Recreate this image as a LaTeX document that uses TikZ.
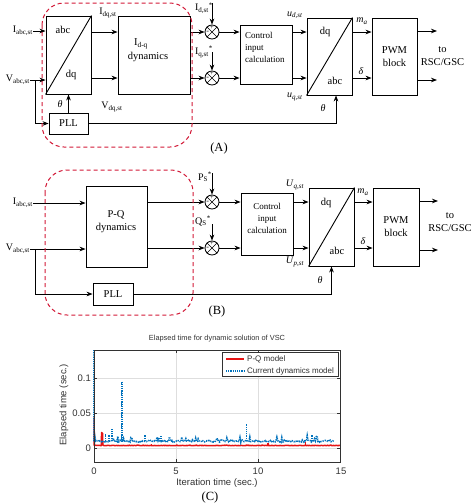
\documentclass[tikz,border=0pt]{standalone}
\usepackage{fontspec}
\setmainfont{Liberation Serif}
\newfontfamily\chartfont{Liberation Sans}
\usetikzlibrary{arrows.meta,calc}
\definecolor{dashred}{RGB}{210,25,55}
\definecolor{plotred}{RGB}{230,20,20}
\definecolor{plotblue}{RGB}{0,114,189}
\definecolor{gridc}{RGB}{222,222,222}
\definecolor{axc}{RGB}{50,50,50}
\newcommand\sumx[1]{%
  \draw[line width=0.65pt] (#1.45) -- (#1.225) (#1.135) -- (#1.315);
  \node[font=\fontsize{6.5}{6.5}\selectfont, inner sep=0pt] (#1p) at ($(#1.center)+(0,-4)$) {+};
  \node[font=\fontsize{8}{8}\selectfont, inner sep=0pt] (#1m) at ($(#1.center)+(-4.2,0.3)$) {-};}
\begin{document}
\begin{tikzpicture}[x=1pt,y=-1pt,
  blk/.style={draw, line width=0.9pt, inner sep=0pt},
  arr/.style={-{Stealth[length=6pt,width=4.6pt]}, line width=0.85pt},
  ln/.style={line width=0.9pt},
  lbl/.style={font=\fontsize{10}{11}\selectfont, inner sep=0pt},
  txt/.style={font=\fontsize{10.5}{13}\selectfont, inner sep=0pt, align=center},
  ctxt/.style={font=\fontsize{9}{12}\selectfont, inner sep=0pt},
  sumc/.style={draw, circle, minimum size=14pt, inner sep=0pt, line width=0.85pt},
  redbox/.style={draw=dashred, line width=1pt, dash pattern=on 4pt off 3pt, rounded corners=22pt},
  figlab/.style={font=\fontsize{12.5}{14}\selectfont, inner sep=0pt},
  ctick/.style={font=\chartfont\fontsize{9.5}{11}\selectfont, inner sep=0pt, text=axc},
  bdots/.style={plotblue, line width=1.6pt, dash pattern=on 1.2pt off 1pt},
]
\useasboundingbox (0,0) rectangle (474,504);

% ================= (A) =================
\node[blk, minimum width=45pt, minimum height=78pt] (abcA) at (68.5,55) {};
\draw[ln] (abcA.south west) -- (abcA.north east);
\node[txt] (abcAt1) at (63,30) {abc};
\node[txt] (abcAt2) at (71,75) {dq};
\node[blk, minimum width=72pt, minimum height=78pt] (dynA) at (154,55) {};
\node[txt] (dynAt1) at (141,44) {I\textsubscript{d-q}};
\node[txt] (dynAt2) at (148,57) {dynamics};
\node[sumc] (s1A) at (212,32) {};
\node[sumc] (s2A) at (212,78) {};
\sumx{s1A}\sumx{s2A}
\node[blk, minimum width=52pt, minimum height=59pt] (ctrlA) at (266,54.5) {};
\node[ctxt, align=left, anchor=west] (ctrlAt) at (245,47) {Control\\input\\calculation};
\node[blk, minimum width=45pt, minimum height=77pt] (dqA) at (329.5,56.5) {};
\draw[ln] (dqA.south west) -- (dqA.north east);
\node[txt] (dqAt1) at (325,32) {dq};
\node[txt] (dqAt2) at (335,81) {abc};
\node[blk, txt, minimum width=45pt, minimum height=77pt] (pwmA) at (394.5,56.5) {PWM\\block};
\node[blk, txt, minimum width=39pt, minimum height=21pt] (pllA) at (68.5,123.5) {PLL};
\node[txt] (toA) at (442.5,56) {to\\RSC/GSC};

\node[lbl, anchor=east] (iA) at (33,31) {I\textsubscript{abc,st}};
\node[lbl, anchor=east] (vA) at (30,80) {V\textsubscript{abc,st}};
\draw[arr] (iA.east) -- (iA.east -| abcA.west);
\draw[arr] (vA.east) -- (vA.east -| abcA.west);
\coordinate (bA) at (35,0);
\draw[arr] (vA.east -| bA) |- (pllA.west);
\draw[arr] (pllA.north) -- (abcA.south);
\node[lbl] (thA1) at (60,104) {\textit{θ}};
\node[lbl] (vdqA) at (112,107) {V\textsubscript{dq,st}};
\node[lbl] (idqA) at (108,13) {I\textsubscript{dq,st}};

\draw[arr] (abcA.east |- s1A) -- (dynA.west |- s1A);
\draw[arr] (abcA.east |- s2A) -- (dynA.west |- s2A);
\draw[arr] (dynA.east |- s1A) -- (s1A.west);
\draw[arr] (dynA.east |- s2A) -- (s2A.west);
\draw[arr] (s1A.east) -- (ctrlA.west |- s1A);
\draw[arr] (s2A.east) -- (ctrlA.west |- s2A);
\draw[arr] (ctrlA.east |- s1A) -- (dqA.west |- s1A);
\draw[arr] (ctrlA.east |- s2A) -- (dqA.west |- s2A);
\draw[arr] (dqA.east |- s1A) -- (pwmA.west |- s1A);
\draw[arr] (dqA.east |- s2A) -- (pwmA.west |- s2A);
\coordinate (o1A) at (437,31);
\coordinate (o2A) at (437,80);
\draw[arr] (pwmA.east |- o1A) -- (o1A);
\draw[arr] (pwmA.east |- o2A) -- (o2A);

\coordinate (r1A) at (212,3);
\coordinate (r2A) at (212,52);
\draw[arr] (r1A) -- (s1A.north);
\draw[arr] (r2A) -- (s2A.north);
\node[lbl] (idsA) at (204,8) {I\textsubscript{d,st}\textsuperscript{*}};
\node[lbl] (iqsA) at (204,52) {I\textsubscript{q,st}\textsuperscript{*}};

\node[lbl] (udA) at (295,15) {\textit{u}\textsubscript{\textit{d,st}}};
\node[lbl] (uqA) at (295,97) {\textit{u}\textsubscript{\textit{q,st}}};
\node[lbl] (maA) at (362,21) {\textit{m}\textsubscript{\textit{a}}};
\node[lbl] (deA) at (361,71) {\textit{δ}};
\node[lbl] (thA2) at (323,108) {\textit{θ}};
\coordinate (tA) at (336,0);
\draw[arr] (pllA.east) -| (dqA.south -| tA);

\draw[redbox] (42,3) rectangle (192,147);
\node[figlab] (labA) at (219,148) {(A)};

% ================= (B) =================
\node[blk, txt, minimum width=61pt, minimum height=81pt] (pqB) at (116.5,226.5) {};
\node[txt] (pqBt) at (116,221.5) {P-Q\\dynamics};
\node[sumc] (s1B) at (212,202) {};
\node[sumc] (s2B) at (212,248) {};
\sumx{s1B}\sumx{s2B}
\node[blk, minimum width=52pt, minimum height=62pt] (ctrlB) at (267,224) {};
\node[ctxt, align=center] (ctrlBt) at (267,218) {Control\\input\\calculation};
\node[blk, minimum width=45pt, minimum height=78pt] (dqB) at (331.5,227) {};
\draw[ln] (dqB.south west) -- (dqB.north east);
\node[txt] (dqBt1) at (326,203) {dq};
\node[txt] (dqBt2) at (337,251) {abc};
\node[blk, txt, minimum width=46pt, minimum height=78pt] (pwmB) at (396,227) {PWM\\block};
\node[blk, txt, minimum width=40pt, minimum height=22pt] (pllB) at (113,294) {PLL};
\node[txt] (toB) at (450,222.5) {to\\RSC/GSC};

\node[lbl, anchor=east] (iB) at (33,203) {I\textsubscript{abc,st}};
\node[lbl, anchor=east] (vB) at (30,249) {V\textsubscript{abc,st}};
\draw[arr] (iB.east) -- (iB.east -| pqB.west);
\draw[arr] (vB.east) -- (vB.east -| pqB.west);
\draw[arr] (vB.east -| bA) |- (pllB.west);

\draw[arr] (pqB.east |- s1B) -- (s1B.west);
\draw[arr] (pqB.east |- s2B) -- (s2B.west);
\draw[arr] (s1B.east) -- (ctrlB.west |- s1B);
\draw[arr] (s2B.east) -- (ctrlB.west |- s2B);
\draw[arr] (ctrlB.east |- s1B) -- (dqB.west |- s1B);
\draw[arr] (ctrlB.east |- s2B) -- (dqB.west |- s2B);
\draw[arr] (dqB.east |- s1B) -- (pwmB.west |- s1B);
\draw[arr] (dqB.east |- s2B) -- (pwmB.west |- s2B);
\coordinate (o1B) at (438,201);
\coordinate (o2B) at (438,250);
\draw[arr] (pwmB.east |- o1B) -- (o1B);
\draw[arr] (pwmB.east |- o2B) -- (o2B);

\coordinate (r1B) at (212,173);
\coordinate (r2B) at (212,224);
\draw[arr] (r1B) -- (s1B.north);
\draw[arr] (r2B) -- (s2B.north);
\node[lbl] (psB) at (205,177) {P\textsubscript{S}\textsuperscript{*}};
\node[lbl] (qsB) at (203,221) {Q\textsubscript{S}\textsuperscript{*}};

\node[lbl] (uqB) at (295,185) {\textit{U}\textsubscript{\textit{q,st}}};
\node[lbl] (upB) at (295,262) {\textit{U}\textsubscript{\textit{p,st}}};
\node[lbl] (maB) at (363,192) {\textit{m}\textsubscript{\textit{a}}};
\node[lbl] (deB) at (363,241) {\textit{δ}};
\node[lbl] (thB) at (320,280) {\textit{θ}};
\draw[arr] (pllB.east) -| (dqB.south);

\draw[redbox] (45,170) rectangle (193,315);
\node[figlab] (labB) at (217,311) {(B)};

% ================= (C) chart =================
\node[font=\chartfont\fontsize{7.4}{9}\selectfont, inner sep=0pt, text=axc] (ttl) at (217,339) {Elapsed time for dynamic solution of VSC};
\begin{scope}[shift={(94pt,-448pt)}, x=16.4pt, y=700pt]
  \fill[white] (0,-0.02) rectangle (15,0.14);
  \draw[gridc, line width=0.5pt] (5,-0.02) -- (5,0.14) (10,-0.02) -- (10,0.14)
     (0,0) -- (15,0) (0,0.05) -- (15,0.05) (0,0.1) -- (15,0.1);
  \pgfmathsetseed{12345}
  % red P-Q model
  \draw[plotred, line width=1.5pt, line join=round]
    (0,0.0035) -- (0,0.043) -- (0.03,0.004) -- (0.45,0.0035) -- (0.46,0.022) -- (0.52,0.021) -- (0.54,0.0045) -- (0.6,0.0035)
    \foreach \i in {13,...,300} { -- ({\i*0.05}, {0.0033+0.0012*rnd*rnd}) };
  \draw[plotred, line width=1.5pt] (10.6,0.0035) -- (10.6,0.0075) (12.9,0.0035) -- (12.9,0.008) (3.5,0.0035) -- (3.5,0.006);
  % blue current dynamics
  \draw[bdots]
    (0,0.14) -- (0,0.009)
    \foreach \i in {1,...,292} { -- ({\i*0.05}, {0.0085+0.0025*rnd+0.007*(rnd>0.85)*rnd}) };
  \draw[bdots]
    (1.68,0.009) -- (1.68,0.095) (1.72,0.095) -- (1.72,0.009)
    (1.1,0.01) -- (1.1,0.027)
    (0.7,0.01) -- (0.7,0.02) (0.9,0.01) -- (0.9,0.018)
    (9.3,0.01) -- (9.3,0.035)
    (3.1,0.01) -- (3.1,0.019) (13.3,0.01) -- (13.3,0.018) (4.1,0.01) -- (4.1,0.017);
  \draw[axc, line width=0.5pt] (0,-0.02) rectangle (15,0.14);
  \foreach \t in {0,5,10,15} {
    \draw[axc, line width=0.5pt] (\t,-0.02) -- (\t,-0.0157) (\t,0.14) -- (\t,0.1357);
  }
  \foreach \v in {0,0.05,0.1} {
    \draw[axc, line width=0.5pt] (0,\v) -- (0.18,\v) (15,\v) -- (14.82,\v);
  }
  % legend
  \draw[axc, fill=white, line width=0.5pt] (7.83,0.1371) rectangle (14.91,0.1029);
  \draw[plotred, line width=1.5pt] (8.05,0.1271) -- (9.15,0.1271);
  \draw[bdots] (8.05,0.1100) -- (9.15,0.1100);
\end{scope}
\node[font=\chartfont\fontsize{8}{9}\selectfont, inner sep=0pt, anchor=west, text=axc] (lg1) at (247,359) {P-Q model};
\node[font=\chartfont\fontsize{8}{9}\selectfont, inner sep=0pt, anchor=west, text=axc] (lg2) at (247,371) {Current dynamics model};
\node[ctick] (xt0) at (94,471) {0};
\node[ctick] (xt5) at (176,471) {5};
\node[ctick] (xt10) at (258,471) {10};
\node[ctick] (xt15) at (341,471) {15};
\node[ctick, anchor=east] (yt0) at (91,448) {0};
\node[ctick, anchor=east] (yt1) at (91,413) {0.05};
\node[ctick, anchor=east] (yt2) at (91,378) {0.1};
\node[ctick] (xl) at (217,483) {Iteration time (sec.)};
\node[ctick, rotate=90] (yl) at (64,405) {Elapsed time (sec.)};
\node[figlab] (labC) at (210,497) {(C)};
\end{tikzpicture}
\end{document}
